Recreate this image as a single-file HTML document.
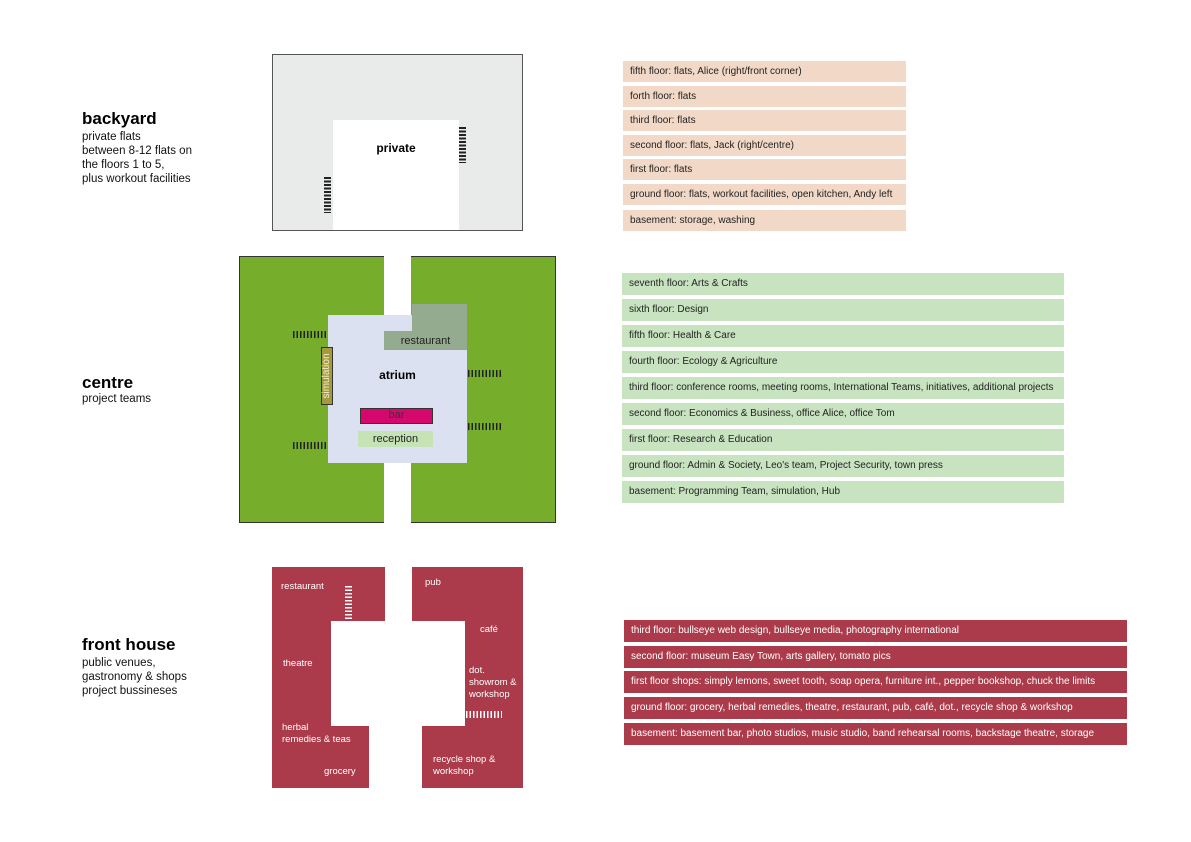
<!DOCTYPE html>
<html><head><meta charset="utf-8"><style>
body{margin:0;width:1191px;height:842px;background:#fff;position:relative;overflow:hidden;font-family:"Liberation Sans",Arial,sans-serif;}
div{position:absolute;box-sizing:border-box;}
.t{font-size:11.5px;color:#111;line-height:14px;}
.h{font-size:17px;font-weight:bold;color:#000;}
.vh{background:repeating-linear-gradient(to bottom,#222 0 2px,transparent 2px 3.5px);}
.hh{background:repeating-linear-gradient(to right,#222 0 1.5px,transparent 1.5px 3.5px);}
.row{font-size:10px;line-height:21px;padding-left:7px;white-space:nowrap;}
.p{background:#f2d8c6;color:#222;left:623px;width:283px;height:21px;}
.g{background:#c8e3c0;color:#222;left:622px;width:442px;height:22px;}
.r{background:#ab3b4a;color:#fff;left:624px;width:503px;height:22px;}
.w{color:#fff;font-size:9.5px;line-height:12px;}
</style></head><body>
<div class="h" style="left:82px;top:109px">backyard</div>
<div class="t" style="left:82px;top:130px">private flats<br>between 8-12 flats on<br>the floors 1 to 5,<br>plus workout facilities</div>
<div class="h" style="left:82px;top:373px">centre</div>
<div class="t" style="left:82px;top:392px">project teams</div>
<div class="h" style="left:82px;top:635px">front house</div>
<div class="t" style="left:82px;top:656px">public venues,<br>gastronomy &amp; shops<br>project bussineses</div>

<div style="left:272px;top:54px;width:251px;height:177px;background:#e9eaea;border:1px solid #555"></div>
<div style="left:333px;top:120px;width:126px;height:110px;background:#fff"></div>
<div style="left:333px;top:141px;width:126px;text-align:center;font-size:12px;font-weight:bold">private</div>
<div class="vh" style="left:459px;top:127px;width:7px;height:36px"></div>
<div class="vh" style="left:324px;top:177px;width:7px;height:36px"></div>

<div style="left:239px;top:256px;width:317px;height:267px;background:#76ad2a;border:1px solid #333"></div>
<div style="left:384px;top:254px;width:27px;height:270px;background:#fff"></div>
<div style="left:328px;top:315px;width:139px;height:148px;background:#dce1f2"></div>
<div style="left:412px;top:304px;width:55px;height:27px;background:#95ab90"></div>
<div style="left:384px;top:331px;width:83px;height:19px;background:#95ab90;font-size:11px;color:#222;text-align:center;line-height:20px">restaurant</div>
<div style="left:328px;top:368px;width:139px;text-align:center;font-size:12px;font-weight:bold">atrium</div>
<div style="left:321px;top:347px;width:12px;height:58px;background:#a39a3b;border:1px solid #333"></div>
<div style="left:298px;top:370px;width:58px;height:12px;transform:rotate(-90deg);font-size:10px;color:#f4efd0;line-height:12px;text-align:center;white-space:nowrap">simulation</div>
<div style="left:360px;top:408px;width:73px;height:16px;background:#d6086e;border:1px solid #333;text-align:center;font-size:11px;line-height:13px;color:#333">bar</div>
<div style="left:358px;top:431px;width:75px;height:16px;background:#c6e3b5;text-align:center;font-size:11px;line-height:16px;color:#222">reception</div>
<div class="hh" style="left:293px;top:331px;width:35px;height:7px"></div>
<div class="hh" style="left:293px;top:442px;width:35px;height:7px"></div>
<div class="hh" style="left:468px;top:370px;width:35px;height:7px"></div>
<div class="hh" style="left:468px;top:423px;width:35px;height:7px"></div>

<div style="left:272px;top:567px;width:113px;height:54px;background:#ab3b4a"></div>
<div style="left:272px;top:621px;width:59px;height:106px;background:#ab3b4a"></div>
<div style="left:272px;top:726px;width:97px;height:62px;background:#ab3b4a"></div>
<div style="left:412px;top:567px;width:111px;height:54px;background:#ab3b4a"></div>
<div style="left:465px;top:621px;width:58px;height:106px;background:#ab3b4a"></div>
<div style="left:422px;top:726px;width:101px;height:62px;background:#ab3b4a"></div>
<div style="left:345px;top:586px;width:7px;height:35px;background:repeating-linear-gradient(to bottom,#fff 0 1.5px,transparent 1.5px 3.5px)"></div>
<div style="left:466px;top:711px;width:36px;height:7px;background:repeating-linear-gradient(to right,#fff 0 1.5px,transparent 1.5px 3.5px)"></div>
<div class="w" style="left:281px;top:581px">restaurant</div>
<div class="w" style="left:425px;top:577px">pub</div>
<div class="w" style="left:480px;top:624px">café</div>
<div class="w" style="left:283px;top:658px">theatre</div>
<div class="w" style="left:469px;top:665px">dot.<br>showrom &amp;<br>workshop</div>
<div class="w" style="left:282px;top:722px">herbal<br>remedies &amp; teas</div>
<div class="w" style="left:324px;top:766px">grocery</div>
<div class="w" style="left:433px;top:754px">recycle shop &amp;<br>workshop</div>

<div class="row p" style="top:61px">fifth floor: flats, Alice (right/front corner)</div>
<div class="row p" style="top:86px">forth floor: flats</div>
<div class="row p" style="top:110px">third floor: flats</div>
<div class="row p" style="top:135px">second floor: flats, Jack (right/centre)</div>
<div class="row p" style="top:159px">first floor: flats</div>
<div class="row p" style="top:184px">ground floor: flats, workout facilities, open kitchen, Andy left</div>
<div class="row p" style="top:210px">basement: storage, washing</div>

<div class="row g" style="top:273px">seventh floor: Arts &amp; Crafts</div>
<div class="row g" style="top:299px">sixth floor: Design</div>
<div class="row g" style="top:325px">fifth floor: Health &amp; Care</div>
<div class="row g" style="top:351px">fourth floor: Ecology &amp; Agriculture</div>
<div class="row g" style="top:377px">third floor: conference rooms, meeting rooms, International Teams, initiatives, additional projects</div>
<div class="row g" style="top:403px">second floor: Economics &amp; Business, office Alice, office Tom</div>
<div class="row g" style="top:429px">first floor: Research &amp; Education</div>
<div class="row g" style="top:455px">ground floor: Admin &amp; Society, Leo's team, Project Security, town press</div>
<div class="row g" style="top:481px">basement: Programming Team, simulation, Hub</div>

<div class="row r" style="top:620px">third floor: bullseye web design, bullseye media, photography international</div>
<div class="row r" style="top:646px">second floor: museum Easy Town, arts gallery, tomato pics</div>
<div class="row r" style="top:671px">first floor shops: simply lemons, sweet tooth, soap opera, furniture int., pepper bookshop, chuck the limits</div>
<div class="row r" style="top:697px">ground floor: grocery, herbal remedies, theatre, restaurant, pub, café, dot., recycle shop &amp; workshop</div>
<div class="row r" style="top:723px">basement: basement bar, photo studios, music studio, band rehearsal rooms, backstage theatre, storage</div>
</body></html>
